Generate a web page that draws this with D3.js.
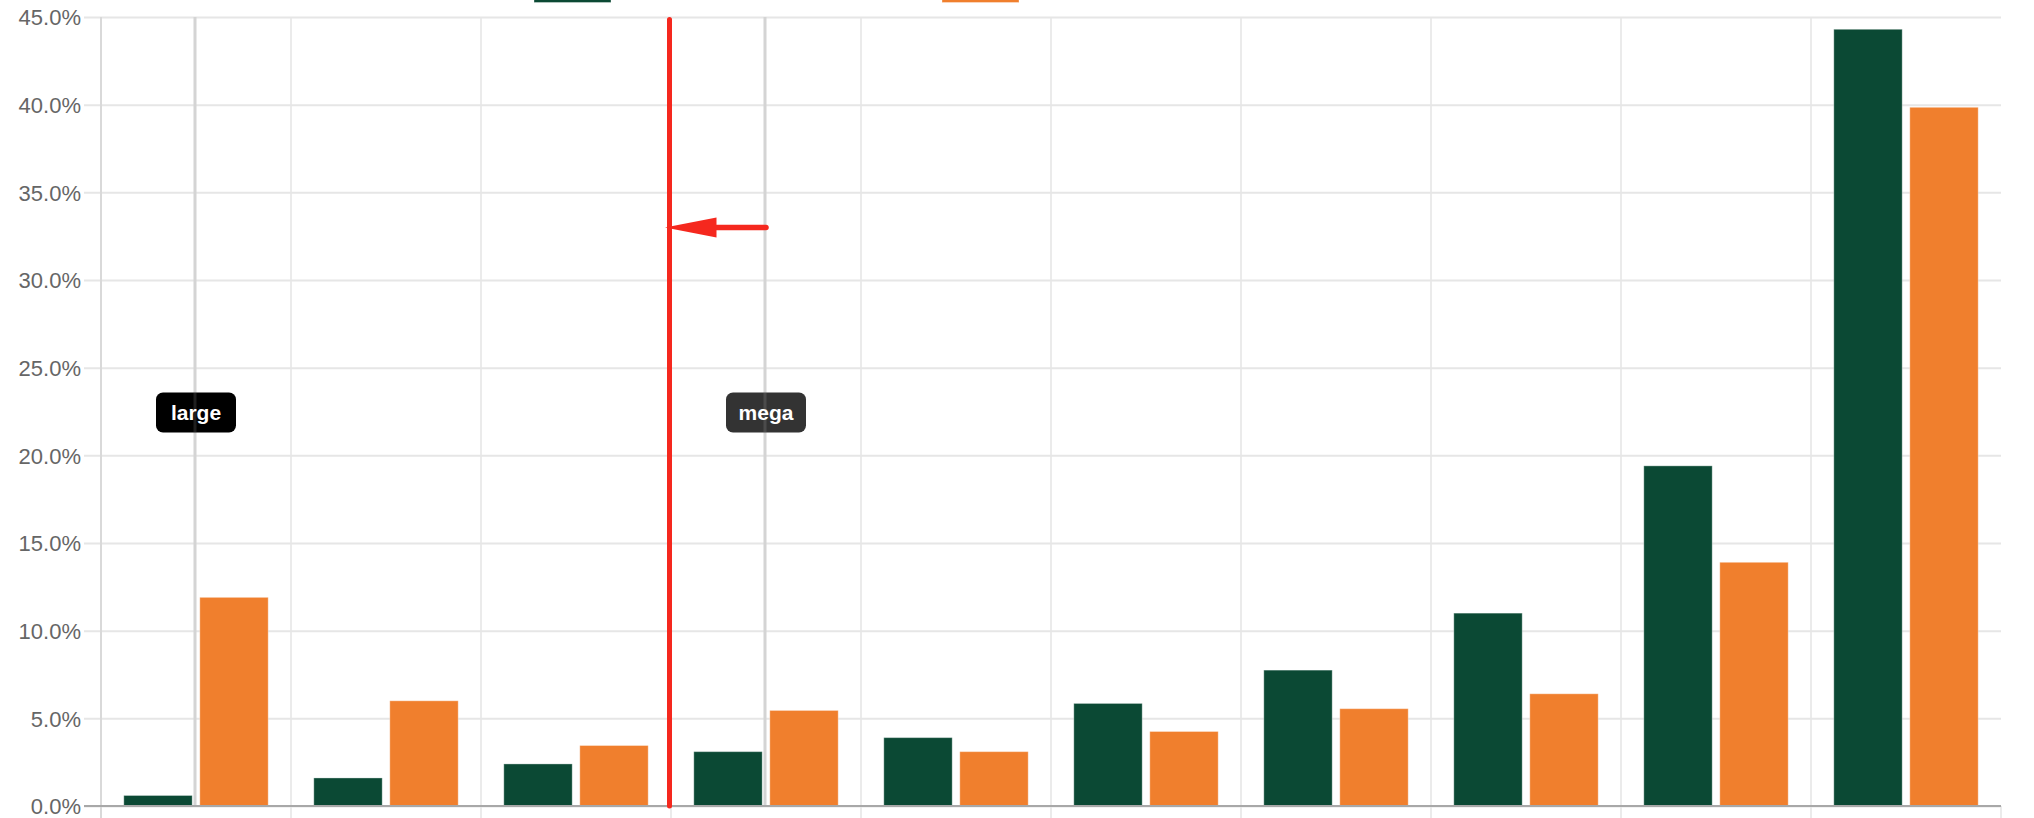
<!DOCTYPE html>
<html>
<head>
<meta charset="utf-8">
<script src="https://cdn.jsdelivr.net/npm/d3@7"></script>
<style>
  body { margin: 0; background: #fff; }
  svg { display: block; }
</style>
</head>
<body>
<svg width="2034" height="818"></svg>
<script>
// Data
var categories = ["1", "2", "3", "4", "5", "6", "7", "8", "9", "10"];
var seriesNames = ["series A", "series B"];
var darkValues = [0.006, 0.016, 0.024, 0.031, 0.039, 0.0585, 0.0775, 0.110, 0.194, 0.443];
var orangeValues = [0.119, 0.060, 0.0345, 0.0545, 0.031, 0.0425, 0.0555, 0.064, 0.139, 0.3985];
var yTicks = [0, 0.05, 0.10, 0.15, 0.20, 0.25, 0.30, 0.35, 0.40, 0.45];
var annotations = [
  { category: "1", text: "large", fill: "#000" },
  { category: "4", text: "mega", fill: "#333" }
];
var markerCategory = "4";
var arrowValue = 0.33;

var colors = ["#0b4934", "#f07f2d"];

// The svg
var svg = d3.select("svg"),
	width = +svg.attr("width"),
	height = +svg.attr("height");

var plot = { left: 101, right: 2001, top: 17, bottom: 806 };

// Scales
var x = d3.scaleBand()
	.domain(categories)
	.range([plot.left, plot.right]);

var xSub = d3.scaleBand()
	.domain(seriesNames)
	.range([x.bandwidth() * 0.1, x.bandwidth() * 0.9])
	.paddingInner(0.1)
	.paddingOuter(0.05);

var y = d3.scaleLinear()
	.domain([0, 0.45])
	.range([plot.bottom, plot.top]);

// Horizontal grid + y labels
var yAxis = d3.axisLeft(y)
	.tickValues(yTicks)
	.tickFormat(d3.format(".1%"))
	.tickSize(-(plot.right - plot.left))
	.tickPadding(0);

var gy = svg.append("g")
	.attr("transform", "translate(" + plot.left + ",0)")
	.call(yAxis);
gy.select(".domain").remove();
gy.selectAll(".tick line")
	.attr("x1", -17)
	.attr("stroke", "#e6e6e6")
	.attr("stroke-width", 2);
gy.selectAll(".tick text")
	.attr("x", -20)
	.attr("dy", "0.35em")
	.attr("fill", "#666")
	.style("font-family", "'Liberation Sans', Arial, Helvetica, sans-serif")
	.style("font-size", "22px");

// Vertical grid at category edges
var edges = categories.map(function(c){ return x(c); });
svg.append("g")
	.selectAll("line")
	.data(edges)
	.enter()
	.append("line")
	.attr("x1", function(d){ return d; })
	.attr("x2", function(d){ return d; })
	.attr("y1", plot.top)
	.attr("y2", height)
	.attr("stroke", function(d, i){ return i === 0 ? "#d9d9d9" : "#e6e6e6"; })
	.attr("stroke-width", function(d, i){ return i === 0 ? 2 : 1.6; });

// last tick under the axis
svg.append("line")
	.attr("x1", plot.right).attr("x2", plot.right)
	.attr("y1", plot.bottom).attr("y2", height)
	.attr("stroke", "#e6e6e6")
	.attr("stroke-width", 1.6);

// Annotation lines (under the bars)
svg.append("g")
	.selectAll("line")
	.data(annotations)
	.enter()
	.append("line")
	.attr("x1", function(d){ return x(d.category) + x.bandwidth() / 2 - 1; })
	.attr("x2", function(d){ return x(d.category) + x.bandwidth() / 2 - 1; })
	.attr("y1", plot.top)
	.attr("y2", plot.bottom)
	.attr("stroke", "#d4d4d4")
	.attr("stroke-width", 3);

// Bars
var rows = categories.map(function(c, i){
	return { category: c, values: [darkValues[i], orangeValues[i]] };
});

svg.append("g")
	.selectAll("g")
	.data(rows)
	.enter()
	.append("g")
	.attr("transform", function(d){ return "translate(" + x(d.category) + ",0)"; })
	.selectAll("rect")
	.data(function(d){
		return d.values.map(function(v, j){ return { name: seriesNames[j], value: v, i: j }; });
	})
	.enter()
	.append("rect")
	.attr("x", function(d){ return xSub(d.name); })
	.attr("width", xSub.bandwidth())
	.attr("y", function(d){ return y(d.value); })
	.attr("height", function(d){ return y(0) - y(d.value); })
	.attr("fill", function(d){ return colors[d.i]; })
	.attr("stroke", "rgba(255,255,255,0.35)")
	.attr("stroke-width", 1);

// zero line
svg.append("line")
	.attr("x1", plot.left - 17).attr("x2", plot.right)
	.attr("y1", y(0)).attr("y2", y(0))
	.attr("stroke", "#a8a8a8")
	.attr("stroke-width", 2);

// Annotation labels
var midY = (y(0) + y(0.45)) / 2 + 1;
var labels = svg.append("g")
	.selectAll("g")
	.data(annotations)
	.enter()
	.append("g")
	.attr("transform", function(d){
		return "translate(" + (x(d.category) + x.bandwidth() / 2) + "," + midY + ")";
	});

labels.append("rect")
	.attr("x", -40)
	.attr("y", -20)
	.attr("width", 80)
	.attr("height", 40)
	.attr("rx", 7)
	.attr("fill", function(d){ return d.fill; });

labels.append("line")
	.attr("x1", -1).attr("x2", -1)
	.attr("y1", -20).attr("y2", 20)
	.attr("stroke", "#fff")
	.attr("stroke-opacity", 0.12)
	.attr("stroke-width", 3);

labels.append("text")
	.attr("text-anchor", "middle")
	.attr("dy", "0.35em")
	.attr("fill", "#fff")
	.style("font-family", "'Liberation Sans', Arial, Helvetica, sans-serif")
	.style("font-weight", "bold")
	.style("font-size", "21px")
	.text(function(d){ return d.text; });

// Legend boxes (cut off at the top)
var legendX = [534, 942];
svg.append("g")
	.selectAll("rect")
	.data(seriesNames)
	.enter()
	.append("rect")
	.attr("x", function(d, i){ return legendX[i]; })
	.attr("y", -20)
	.attr("width", 77)
	.attr("height", 22.5)
	.attr("fill", function(d, i){ return colors[i]; })
	.attr("stroke", "rgba(255,255,255,0.35)");

// Red marker line and arrow
var red = "#f5281e";
var redX = x(markerCategory) - 1.5;
var arrowY = y(arrowValue);
var arrowStart = x(markerCategory) + x.bandwidth() / 2;

svg.append("line")
	.attr("x1", redX).attr("x2", redX)
	.attr("y1", y(0.45) + 2.5).attr("y2", y(0))
	.attr("stroke", red)
	.attr("stroke-width", 5)
	.attr("stroke-linecap", "round");

svg.append("line")
	.attr("x1", arrowStart).attr("x2", redX + 44)
	.attr("y1", arrowY).attr("y2", arrowY)
	.attr("stroke", red)
	.attr("stroke-width", 5.5)
	.attr("stroke-linecap", "round");

svg.append("path")
	.attr("d", "M" + (redX - 4.5) + "," + arrowY +
		"L" + (redX + 47) + "," + (arrowY - 10) +
		"L" + (redX + 47) + "," + (arrowY + 10) + "Z")
	.attr("fill", red);
</script>
</body>
</html>
